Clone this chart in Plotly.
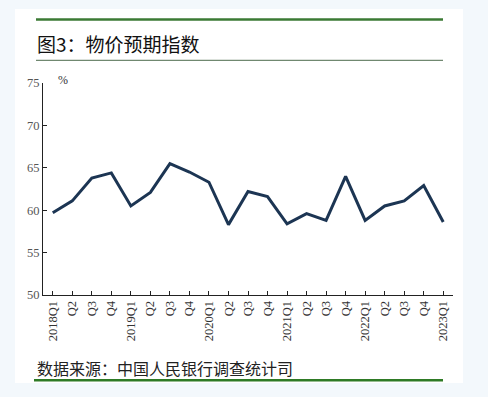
import plotly.graph_objects as go

categories = ["2018Q1", "Q2", "Q3", "Q4",
              "2019Q1", "Q2", "Q3", "Q4",
              "2020Q1", "Q2", "Q3", "Q4",
              "2021Q1", "Q2", "Q3", "Q4",
              "2022Q1", "Q2", "Q3", "Q4",
              "2023Q1"]
values = [59.7, 61.1, 63.8, 64.4,
          60.5, 62.1, 65.5, 64.5,
          63.3, 58.3, 62.2, 61.6,
          58.4, 59.6, 58.8, 64.0,
          58.8, 60.5, 61.1, 62.9,
          58.6]
y_ticks = [50, 55, 60, 65, 70, 75]
title_text = "图3：物价预期指数"
source_text = "数据来源：中国人民银行调查统计司"
unit_text = "%"

W, H = 488, 397
L, R, T, B = 43, 35, 83, 102
PW, PH = W - L - R, H - T - B
BG = "#f3f8fc"


def px(x):
    return (x - L) / PW


def py(y):
    return (H - B - y) / PH


x_idx = list(range(len(categories)))

fig = go.Figure()
fig.add_trace(go.Scatter(
    x=x_idx, y=values, mode="lines",
    line=dict(color="#1c3553", width=3),
    hoverinfo="skip", showlegend=False,
))

shapes = [
    dict(type="rect", xref="paper", yref="paper",
         x0=px(15), x1=px(463), y0=py(383), y1=py(9),
         fillcolor="white", line=dict(width=0), layer="below"),
    dict(type="line", xref="paper", yref="paper",
         x0=px(36), x1=px(443), y0=py(19.5), y1=py(19.5),
         line=dict(color="#3b7a34", width=2.5)),
    dict(type="line", xref="paper", yref="paper",
         x0=px(36), x1=px(443), y0=py(60.3), y1=py(60.3),
         line=dict(color="#4d6b4d", width=1)),
    dict(type="line", xref="paper", yref="paper",
         x0=px(34), x1=px(443), y0=py(380.3), y1=py(380.3),
         line=dict(color="#2e7a25", width=2.5)),
]

annotations = [
    dict(text=title_text, xref="paper", yref="paper", x=px(35), y=py(43),
         xanchor="left", yanchor="middle", showarrow=False,
         font=dict(family="Noto Sans CJK SC", size=19, color="#111111")),
    dict(text=source_text, xref="paper", yref="paper", x=px(35), y=py(368),
         xanchor="left", yanchor="middle", showarrow=False,
         font=dict(family="Noto Sans CJK SC", size=16, color="#222222")),
    dict(text=unit_text, xref="paper", yref="paper", x=px(56), y=py(80),
         xanchor="left", yanchor="middle", showarrow=False,
         font=dict(family="Liberation Serif", size=12, color="#333333")),
]

fig.update_layout(
    width=W, height=H,
    margin=dict(l=L, r=R, t=T, b=B, pad=0),
    paper_bgcolor=BG,
    plot_bgcolor="rgba(0,0,0,0)",
    shapes=shapes,
    annotations=annotations,
    xaxis=dict(
        range=[-0.5, len(categories) - 0.5],
        tickmode="array", tickvals=x_idx, ticktext=categories,
        tickangle=-90, tickson="boundaries",
        ticks="inside", ticklen=4, tickcolor="#222222",
        showline=True, linecolor="#222222", linewidth=1,
        showgrid=False, zeroline=False,
        tickfont=dict(family="Liberation Serif", size=12.5, color="#333333"),
    ),
    yaxis=dict(
        range=[50, 75],
        tickmode="array", tickvals=y_ticks,
        ticks="inside", ticklen=4, tickcolor="#222222",
        showline=True, linecolor="#222222", linewidth=1,
        showgrid=False, zeroline=False,
        tickfont=dict(family="Liberation Serif", size=12.5, color="#555555"),
    ),
)

fig.write_html(
    "out.html",
    config={"displayModeBar": False},
    post_script="document.body.style.margin='0';document.body.style.background='" + BG + "';",
)
